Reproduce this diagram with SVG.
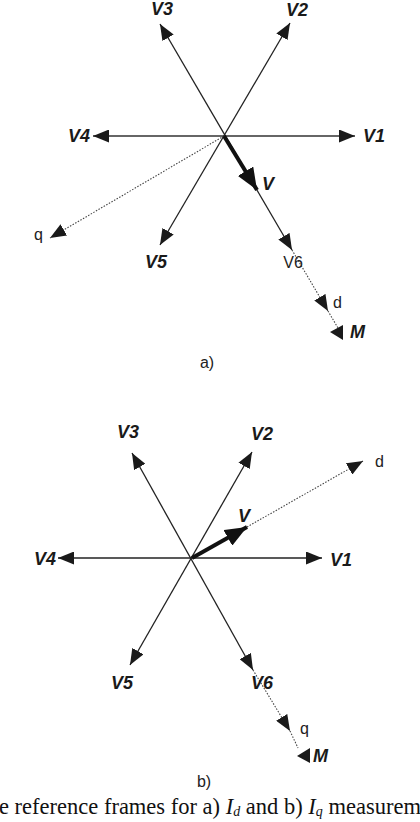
<svg xmlns="http://www.w3.org/2000/svg" width="420" height="822" viewBox="0 0 420 822">
<defs>
<style>
.ax{stroke:#222;stroke-width:1.3;fill:none}
.axh{stroke:#666;stroke-width:2;fill:none}
.dot{stroke:#444;stroke-width:1.1;stroke-dasharray:1.5 1.5;fill:none}
.vec{stroke:#111;stroke-width:4;fill:none}
.lb{font-family:"Liberation Sans",Arial,sans-serif;font-weight:bold;font-style:italic;font-size:18px;fill:#1a1a1a}
.lr{font-family:"Liberation Sans",Arial,sans-serif;font-size:16px;fill:#222}
.cap{font-family:"Liberation Serif","Times New Roman",serif;font-size:22.5px;fill:#111}
.tri{fill:#1a1a1a}
</style>
<marker id="ah" viewBox="0 0 16 13" refX="16" refY="6.5" markerWidth="16" markerHeight="13" markerUnits="userSpaceOnUse" orient="auto-start-reverse">
<path d="M0,0 L16,6.5 L0,13 z" fill="#1a1a1a"/>
</marker>
<marker id="ahb" viewBox="0 0 22 18" refX="22" refY="9" markerWidth="22" markerHeight="18" markerUnits="userSpaceOnUse" orient="auto">
<path d="M0,0 L22,9 L0,18 z" fill="#111"/>
</marker>
</defs>
<rect width="420" height="822" fill="#fff"/>

<g id="connectors">
<!-- diagram a -->
<line class="axh" x1="93" y1="136" x2="355" y2="136" marker-start="url(#ah)" marker-end="url(#ah)"/>
<line class="ax" x1="160" y1="24" x2="292" y2="250" marker-start="url(#ah)" marker-end="url(#ah)"/>
<line class="ax" x1="290" y1="23" x2="160" y2="245" marker-start="url(#ah)" marker-end="url(#ah)"/>
<line class="dot" x1="224" y1="136" x2="50" y2="238" marker-end="url(#ah)"/>
<line class="dot" x1="292" y1="250" x2="328" y2="311" marker-end="url(#ah)"/>
<line class="dot" x1="328" y1="311" x2="338" y2="328"/>
<line class="vec" x1="224" y1="136" x2="257" y2="190" marker-end="url(#ahb)"/>
<!-- diagram b -->
<line class="ax" x1="58" y1="558" x2="322" y2="558" marker-start="url(#ah)" marker-end="url(#ah)"/>
<line class="ax" x1="132" y1="453" x2="253" y2="670" marker-start="url(#ah)" marker-end="url(#ah)"/>
<line class="ax" x1="252" y1="452" x2="130" y2="665" marker-start="url(#ah)" marker-end="url(#ah)"/>
<line class="dot" x1="247" y1="527" x2="363" y2="461" marker-end="url(#ah)"/>
<line class="dot" x1="253" y1="670" x2="290" y2="731" marker-end="url(#ah)"/>
<line class="dot" x1="290" y1="731" x2="298" y2="748"/>
<line class="vec" x1="192" y1="558" x2="247" y2="527" marker-end="url(#ahb)"/>
</g>

<g id="diagram-a">
<g id="a-V1"><text class="lb" x="363" y="142">V1</text></g>
<g id="a-V2"><text class="lb" x="297" y="16" text-anchor="middle">V2</text></g>
<g id="a-V3"><text class="lb" x="162" y="15" text-anchor="middle">V3</text></g>
<g id="a-V4"><text class="lb" x="90" y="142" text-anchor="end">V4</text></g>
<g id="a-V5"><text class="lb" x="156" y="268" text-anchor="middle">V5</text></g>
<g id="a-V6"><text class="lr" x="293" y="268" text-anchor="middle" font-size="17" fill="#444">V6</text></g>
<g id="a-V"><text class="lb" x="262" y="190">V</text></g>
<g id="a-q"><text class="lr" x="34" y="240">q</text></g>
<g id="a-d"><text class="lr" x="333" y="308">d</text></g>
<g id="a-M"><polygon class="tri" points="330,332 343,325 343,340"/><text class="lb" x="350" y="338" font-size="16">M</text></g>
<g id="a-label"><text class="lr" x="207" y="368" text-anchor="middle">a)</text></g>
</g>

<g id="diagram-b">
<g id="b-V1"><text class="lb" x="330" y="566">V1</text></g>
<g id="b-V2"><text class="lb" x="262" y="440" text-anchor="middle">V2</text></g>
<g id="b-V3"><text class="lb" x="128" y="438" text-anchor="middle">V3</text></g>
<g id="b-V4"><text class="lb" x="56" y="565" text-anchor="end">V4</text></g>
<g id="b-V5"><text class="lb" x="122" y="689" text-anchor="middle">V5</text></g>
<g id="b-V6"><text class="lb" x="262" y="689" text-anchor="middle">V6</text></g>
<g id="b-V"><text class="lb" x="238" y="522">V</text></g>
<g id="b-d"><text class="lr" x="375" y="467">d</text></g>
<g id="b-q"><text class="lr" x="300" y="734">q</text></g>
<g id="b-M"><polygon class="tri" points="297,756 310,748 310,763"/><text class="lb" x="313" y="762" font-size="16">M</text></g>
<g id="b-label"><text class="lr" x="204" y="787" text-anchor="middle">b)</text></g>
</g>

<g id="caption">
<text class="cap" x="-1" y="814">e reference frames for a) <tspan font-style="italic">I</tspan><tspan font-style="italic" font-size="14" dy="2">d</tspan><tspan dy="-2"> and b) </tspan><tspan font-style="italic">I</tspan><tspan font-style="italic" font-size="14" dy="2">q</tspan><tspan dy="-2"> measurem</tspan></text>
</g>
</svg>
